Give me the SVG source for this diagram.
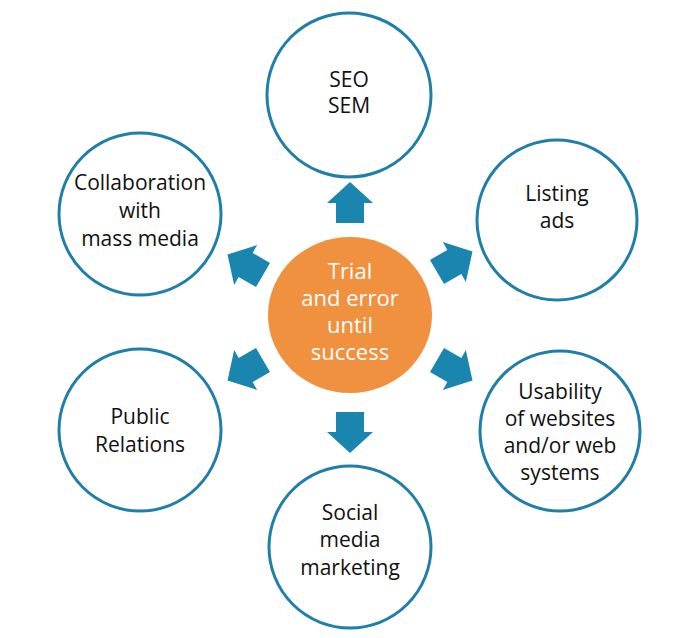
<svg xmlns="http://www.w3.org/2000/svg" width="700" height="638" viewBox="0 0 700 638">
<style>
.n{fill:#fff;stroke:#1f7fa8;stroke-width:3}
.t{font-family:"Open Sans","Liberation Sans",sans-serif;font-size:21px;fill:#111;text-anchor:middle}
.c{font-family:"Open Sans","Liberation Sans",sans-serif;font-size:22px;fill:#fff;text-anchor:middle}
.a{fill:#1a86b0}
</style>
<defs><path id="arr" d="M-14,0 L-14,-20 L-23,-20 L0,-41 L23,-20 L14,-20 L14,0 Z"/></defs>
<rect width="700" height="638" fill="#fff"/>
<g id="connectors">
<use href="#arr" class="a" transform="translate(350,223)"/>
<use href="#arr" class="a" transform="translate(350,412) rotate(180)"/>
<use href="#arr" class="a" transform="translate(263,275) rotate(-60)"/>
<use href="#arr" class="a" transform="translate(437,272) rotate(60)"/>
<use href="#arr" class="a" transform="translate(263,360) rotate(-120)"/>
<use href="#arr" class="a" transform="translate(437,360) rotate(120)"/>
</g>
<g id="center"><ellipse cx="350" cy="315" rx="82" ry="78" fill="#f0913f"/>
<text class="c" x="350" y="279">Trial</text><text class="c" x="350" y="306">and error</text><text class="c" x="350" y="333">until</text><text class="c" x="350" y="360">success</text></g>
<g id="seo"><circle class="n" cx="349" cy="95" r="82"/><text class="t" x="349" y="87">SEO</text><text class="t" x="349" y="113">SEM</text></g>
<g id="listing"><circle class="n" cx="557" cy="220" r="80"/><text class="t" x="557" y="201">Listing</text><text class="t" x="557" y="228">ads</text></g>
<g id="usability"><circle class="n" cx="560" cy="431" r="80"/><text class="t" x="560" y="399">Usability</text><text class="t" x="560" y="426">of websites</text><text class="t" x="560" y="453">and/or web</text><text class="t" x="560" y="480">systems</text></g>
<g id="social"><circle class="n" cx="350" cy="547" r="81"/><text class="t" x="350" y="520">Social</text><text class="t" x="350" y="547">media</text><text class="t" x="350" y="575">marketing</text></g>
<g id="pr"><circle class="n" cx="140" cy="430" r="81"/><text class="t" x="140" y="424">Public</text><text class="t" x="140" y="452">Relations</text></g>
<g id="collab"><circle class="n" cx="140" cy="214" r="81"/><text class="t" x="140" y="190">Collaboration</text><text class="t" x="140" y="218">with</text><text class="t" x="140" y="246">mass media</text></g>
</svg>
